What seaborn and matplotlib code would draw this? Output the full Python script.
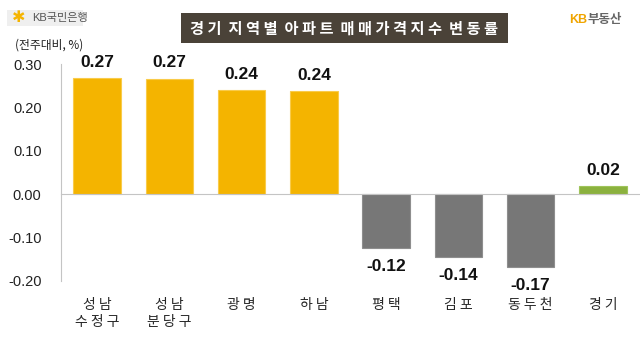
import matplotlib
matplotlib.use("Agg")
import matplotlib.pyplot as plt
import seaborn as sns
import pandas as pd
import numpy as np
from matplotlib.patches import Rectangle

# Weekly change of apartment sale price index by region (%)
regions = ["성 남\n수 정 구", "성 남\n분 당 구", "광 명", "하 남", "평 택", "김 포", "동 두 천", "경 기"]
changes = [0.268, 0.266, 0.240, 0.237, -0.124, -0.144, -0.167, 0.018]
bar_colors = ["#F4B400", "#F4B400", "#F4B400", "#F4B400",
              "#777777", "#777777", "#777777", "#8BB13E"]
edge_colors = ["#F9CB4A", "#F9CB4A", "#F9CB4A", "#F9CB4A",
               "#8E8E8E", "#8E8E8E", "#8E8E8E", "#9FC45A"]
yticks = [-0.20, -0.10, 0.00, 0.10, 0.20, 0.30]

title = "경 기  지 역 별  아 파 트  매 매 가 격 지 수  변 동 률"
unit_note = "(전주대비, %)"

sns.set_style("white")
KR = ["Noto Sans CJK KR", "DejaVu Sans"]
NUM = ["Liberation Sans", "Noto Sans CJK KR", "DejaVu Sans"]
plt.rcParams["font.family"] = KR

W, H = 640, 341
fig = plt.figure(figsize=(W / 100, H / 100), dpi=100)
fig.patch.set_facecolor("white")

def fx(px):
    return px / W

def fy(py):
    return 1 - py / H

ax = fig.add_axes([fx(61), fy(281), fx(639) - fx(61), (281 - 64) / H])

df = pd.DataFrame({"region": regions, "change": changes})
sns.barplot(data=df, x="region", y="change", hue="region",
            palette=bar_colors, legend=False, width=0.66, ax=ax,
            saturation=1)
for patch, ec in zip(ax.patches, edge_colors):
    patch.set_edgecolor(ec)
    patch.set_linewidth(0.8)

ax.set_ylim(yticks[0], yticks[-1])
ax.set_xlim(-0.5, len(regions) - 0.5)
ax.set_yticks(yticks)
ax.set_yticklabels([f"{t:.2f}" for t in yticks], family=NUM, fontsize=10.5,
                   color="#222222")
ax.tick_params(axis="y", direction="out", length=5, width=0.8,
               color="#C4C4C4", pad=9)

# category labels below the plot, boundary ticks on the zero line
ax.set_xticks(range(len(regions)))
ax.set_xticklabels(regions, fontsize=9.3, color="#3A3A3A", linespacing=2.15)
ax.tick_params(axis="x", which="major", length=0, pad=75)
ax.set_xticks(np.arange(len(regions)) + 0.5, minor=True)
ax.tick_params(axis="x", which="minor", direction="out", length=4,
               width=0.8, color="#C4C4C4")
ax.set_xlabel("")
ax.set_ylabel("")

for side in ("top", "right"):
    ax.spines[side].set_visible(False)
ax.spines["left"].set_color("#C4C4C4")
ax.spines["left"].set_linewidth(0.8)
ax.spines["bottom"].set_position(("data", 0))
ax.spines["bottom"].set_color("#C4C4C4")
ax.spines["bottom"].set_linewidth(0.8)

for i, v in enumerate(changes):
    if v >= 0:
        ax.annotate(f"{v:.2f}", (i, v), xytext=(0, 6), textcoords="offset points",
                    ha="center", va="bottom", fontsize=12.5, fontweight="bold",
                    family=NUM, color="#111111")
    else:
        ax.annotate(f"{v:.2f}", (i, v), xytext=(0, -8), textcoords="offset points",
                    ha="center", va="top", fontsize=12.5, fontweight="bold",
                    family=NUM, color="#111111")

# title banner
fig.patches.append(Rectangle((fx(181), fy(43)), fx(508) - fx(181), 30 / H,
                             transform=fig.transFigure, facecolor="#4A4238",
                             edgecolor="none", zorder=1))
fig.text(fx(344.5), fy(28.5), title, ha="center", va="center", color="white",
         fontsize=11, fontweight="bold", family=KR, zorder=2)

# unit note
fig.text(fx(15), fy(45), unit_note, ha="left", va="center", fontsize=8.5,
         color="#222222", family=KR)

# bank logo (top left)
fig.patches.append(Rectangle((fx(7), fy(26)), fx(83) - fx(7), 16 / H,
                             transform=fig.transFigure, facecolor="#EFEFEF",
                             edgecolor="none", zorder=1))
fig.text(fx(19), fy(18), "✱", ha="center", va="center", fontsize=11.5,
         color="#F5B400", family=["DejaVu Sans"], fontweight="bold", zorder=2)
fig.text(fx(32), fy(18), "KB국민은행", ha="left", va="center", fontsize=8,
         color="#555555", family=NUM, zorder=2)

# brand mark (top right)
fig.text(fx(569), fy(20), "KB", ha="left", va="center", fontsize=9,
         fontweight="bold", color="#F0A500", family=NUM)
fig.text(fx(588), fy(20), "부동산", ha="left", va="center", fontsize=9,
         fontweight="bold", color="#666666", family=KR)

fig.savefig("out.png", dpi=100)
